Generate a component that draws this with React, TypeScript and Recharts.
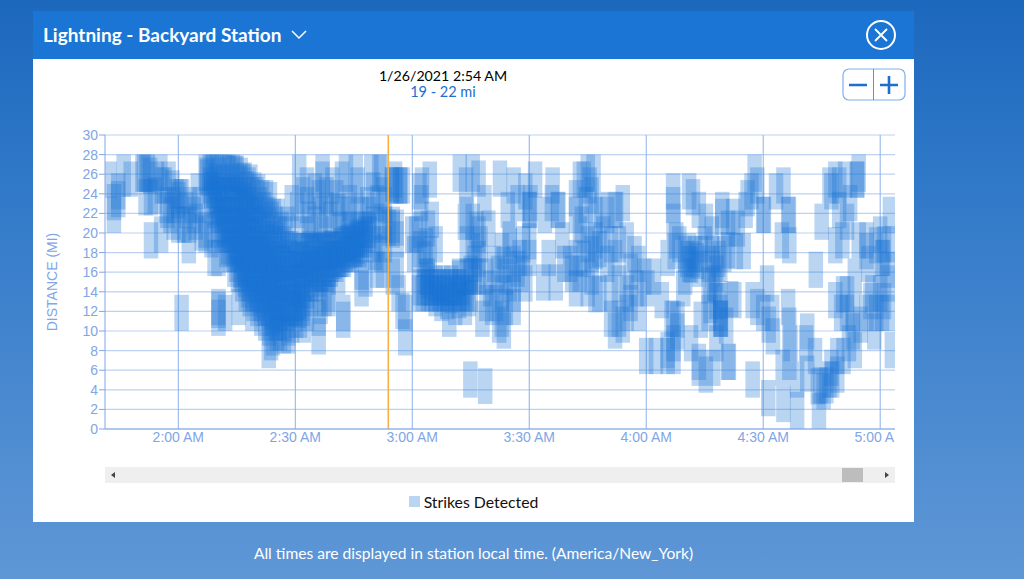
import { ComposedChart, Bar, XAxis, YAxis, CartesianGrid, ReferenceLine, Legend } from 'recharts'

// minutes after 2:00 AM, low mile, high mile
type Strike = [number, number, number]

const xTicks = [0, 30, 60, 90, 120, 150, 180]
const xTickLabels = ['2:00 AM', '2:30 AM', '3:00 AM', '3:30 AM', '4:00 AM', '4:30 AM', '5:00 AM']
const yTicks = [0, 2, 4, 6, 8, 10, 12, 14, 16, 18, 20, 22, 24, 26, 28, 30]
const selectedMinute = 53.85

const earlyStrikes: Strike[] = [
  [-17.6, 23.6, 27.3], [-16.5, 21.3, 25], [-16.5, 20, 23.7], [-15.4, 22.4, 26.1], [-15.4, 21.6, 25.3], [-14, 23.7, 28], [-12.2, 23.7, 27.3],
  [-9.2, 24.2, 28], [-8.8, 24.2, 28], [-8.2, 24.2, 28], [-7.8, 24.2, 28], [-7.2, 24, 27.7], [-7, 17.4, 21.1], [-8.4, 21.8, 25.5], [-7, 21.8, 25.5],
  [-6, 22, 25.7], [-5.5, 24.3, 27.3], [-4.6, 24.3, 28], [-4.4, 18, 21.7], [-4.2, 23, 26.7], [-3.5, 23, 26.7], [-3, 21, 24.7], [-2.8, 20.5, 24.2],
  [-2.5, 24.3, 27.3], [-2, 20, 23.7], [-1.5, 23, 26.4], [-1.2, 19.3, 23], [-1, 21, 24.7], [-0.5, 22.5, 25.5], [0, 19, 22.7], [0, 21.5, 25.2],
  [0.5, 22.5, 25.5], [0.85, 10, 13.7], [1, 22, 25.5], [1.5, 19, 22.7], [2, 20.5, 24.2], [2.7, 16.9, 20.6], [2.8, 19, 22.7], [3, 21, 24.7],
  [4, 20, 23.7], [4.5, 19.3, 23], [5, 22.4, 26.1], [5.5, 21, 24.7], [6, 18.2, 21.9], [7, 18, 21.7], [7, 18.5, 22.2], [8.5, 17.5, 21.2],
  [9.3, 15.6, 19.3], [10.3, 15.6, 19.3], [10.3, 10.3, 14], [10.3, 9.5, 13.2], [10.3, 10.6, 14.3], [12, 10, 13.7], [15.5, 10.6, 14.3], [19, 10, 13.7],
]

const coreStrikes: Strike[] = [
  [7, 24.3, 28], [7.2, 24, 27.7], [7.4, 23.8, 27.5], [8, 24.3, 28], [8.1, 23, 26.7], [8.5, 22.5, 26.2], [8.5, 21.7, 25.4],
  [9, 24.3, 28], [9, 22.5, 26.2], [9.2, 21.5, 25.2], [9.3, 20.5, 24.2], [10, 24.3, 28], [10, 22, 25.7], [10.1, 20, 23.7], [10.2, 18.5, 22.2],
  [11, 24.3, 28], [11, 22, 25.7], [11.2, 20, 23.7], [11.1, 18, 21.7], [12, 24.3, 28], [12, 22, 25.7], [12.1, 20, 23.7], [12, 18, 21.7], [12.3, 16.5, 20.2],
  [13, 24.3, 28], [13, 22, 25.7], [13.2, 20, 23.7], [13, 18, 21.7], [13.1, 16, 19.7], [14, 24.3, 28], [14, 22.3, 26], [14.2, 20, 23.7], [14, 18, 21.7], [14.1, 16, 19.7], [14.4, 14.5, 18.2],
  [15, 24.2, 27.9], [15, 22, 25.7], [15.1, 20, 23.7], [15, 18, 21.7], [15.2, 16, 19.7], [15.3, 14, 17.7], [16, 24, 27.7], [16, 22, 25.7], [16.1, 20, 23.7], [16, 18, 21.7], [16.2, 16, 19.7], [16.1, 14, 17.7], [16.4, 13, 16.7],
  [17, 23.5, 27.2], [17, 21.5, 25.2], [17.1, 19.5, 23.2], [17, 17.5, 21.2], [17.2, 15.5, 19.2], [17.1, 13.5, 17.2], [17.3, 12, 15.7],
  [18, 23, 26.7], [18, 21, 24.7], [18.1, 19, 22.7], [18, 17, 20.7], [18.2, 15, 18.7], [18.1, 13, 16.7], [18.3, 11.5, 15.2],
  [19, 22, 25.7], [19, 20, 23.7], [19.1, 18, 21.7], [19, 16, 19.7], [19.2, 14, 17.7], [19.1, 12, 15.7], [19.3, 11, 14.7],
  [20, 22, 25.7], [20, 20, 23.7], [20.1, 18, 21.7], [20, 16, 19.7], [20.2, 14, 17.7], [20.1, 12, 15.7], [20.3, 10.5, 14.2],
  [21, 21, 24.7], [21, 19, 22.7], [21.1, 17, 20.7], [21, 15, 18.7], [21.2, 13, 16.7], [21.1, 11, 14.7], [21.3, 9.5, 13.2],
  [22, 20.5, 24.2], [22, 18.5, 22.2], [22.1, 16.5, 20.2], [22, 14.5, 18.2], [22.2, 12.5, 16.2], [22.1, 10.5, 14.2], [22.3, 9, 12.7],
  [23, 20, 23.7], [23, 18, 21.7], [23.1, 16, 19.7], [23, 14, 17.7], [23.2, 12, 15.7], [23.1, 10, 13.7], [23.3, 8.5, 12.2], [23.2, 6.2, 9.9], [23.8, 7, 10.7],
  [24, 19.5, 23.2], [24, 17.5, 21.2], [24.1, 15.5, 19.2], [24, 13.5, 17.2], [24.2, 11.5, 15.2], [24.1, 9.5, 13.2], [24.3, 7.5, 11.2],
  [25, 19, 22.7], [25, 17, 20.7], [25.1, 15, 18.7], [25, 13, 16.7], [25.2, 11, 14.7], [25.1, 9, 12.7], [25.3, 8, 11.7], [26, 18, 21.7], [26, 16, 19.7], [26.1, 14, 17.7], [26, 12, 15.7], [26.2, 10, 13.7], [26.1, 8, 11.7],
  [27, 17, 20.7], [27, 15, 18.7], [27.1, 13, 16.7], [27, 11, 14.7], [27.2, 9, 12.7], [27.1, 7.7, 11.4], [28, 16.5, 20.2], [28, 14.5, 18.2], [28.1, 12.5, 16.2], [28, 10.5, 14.2], [28.2, 8.5, 12.2], [28.1, 7.7, 11.4],
  [29, 16.5, 20.2], [29, 14.5, 18.2], [29.1, 12.5, 16.2], [29, 10.5, 14.2], [29.2, 8.8, 12.5], [30, 16.3, 20], [30, 14.5, 18.2], [30.1, 12.5, 16.2], [30, 10.5, 14.2], [30.2, 9.3, 13],
  [31, 16.3, 20], [31, 14.3, 18], [31.1, 12.3, 16], [31, 10.3, 14], [31.2, 9.3, 13], [32, 16.3, 20], [32, 14.3, 18], [32.1, 12.5, 16.2], [32, 10.5, 14.2], [32.2, 8.8, 12.5],
  [33, 16.3, 20], [33, 14.3, 18], [33.1, 12.3, 16], [33, 10, 13.7], [34, 16.3, 20], [34, 14.5, 18.2], [34.1, 13, 16.7], [34, 11.5, 15.2], [35, 16.3, 20], [35, 14.5, 18.2], [35.1, 13, 16.7],
  [36, 16.3, 20], [36, 15, 18.7], [36.1, 13.5, 17.2], [37, 16.3, 20], [37, 15, 18.7], [37.1, 14, 17.7], [38, 16.3, 20], [38, 15.5, 19.2], [38.1, 14, 17.7], [39, 16.5, 20.2], [39, 15.5, 19.2], [39.1, 14.5, 18.2],
  [40, 16.4, 20.1], [40, 15.3, 19], [41, 16.5, 20.2], [41, 15.5, 19.2], [42, 16.5, 20.2], [42, 15.5, 19.2], [43, 17, 20.7], [43, 16, 19.7], [44, 17, 20.7], [44, 16.3, 20],
  [45, 17, 20.7], [45, 16.5, 20.2], [46, 17.5, 21.2], [46, 16.8, 20.5], [47, 17.5, 21.2], [47, 17, 20.7], [48, 18, 21.7], [48, 17.5, 21.2], [49, 18.5, 22.2], [49, 18, 21.7], [50, 19, 22.7],
]

const coreFillStrikes: Strike[] = [
  [8.6, 24.3, 28], [9.6, 23.4, 27.1], [9.7, 20.8, 24.5], [10.6, 24, 27.7], [10.6, 21, 24.7], [10.7, 19, 22.7], [11.6, 23.2, 26.9], [11.6, 20.9, 24.6], [11.7, 18.6, 22.3],
  [12.6, 24.2, 27.9], [12.6, 21.2, 24.9], [12.7, 18.8, 22.5], [12.8, 16.8, 20.5], [13.6, 23.4, 27.1], [13.6, 21, 24.7], [13.7, 18.9, 22.6], [13.8, 16.6, 20.3], [14.6, 24.2, 27.9], [14.6, 21.2, 24.9], [14.7, 19, 22.7], [14.8, 17, 20.7], [14.9, 15, 18.7],
  [15.6, 23.2, 26.9], [15.6, 20.8, 24.5], [15.7, 18.8, 22.5], [15.8, 16.8, 20.5], [15.9, 14.4, 18.1], [16.6, 23.4, 27.1], [16.6, 21, 24.7], [16.7, 18.7, 22.4], [16.8, 16.5, 20.2], [16.9, 14.6, 18.3], [17.6, 22.6, 26.3], [17.6, 20.5, 24.2], [17.7, 18.4, 22.1], [17.8, 16.2, 19.9], [17.9, 14.2, 17.9], [17.9, 12.4, 16.1],
  [18.5, 23.3, 27], [18.6, 20, 23.7], [18.7, 17.8, 21.5], [18.8, 15.8, 19.5], [18.9, 13.6, 17.3], [19.5, 22.5, 26.2], [19.6, 19.2, 22.9], [19.7, 17, 20.7], [19.8, 14.8, 18.5], [19.9, 12.8, 16.5], [20.5, 22.3, 26], [20.6, 18.8, 22.5], [20.7, 16.4, 20.1], [20.8, 14.2, 17.9], [20.9, 11.8, 15.5],
  [21.5, 21.7, 25.4], [21.6, 18, 21.7], [21.7, 15.8, 19.5], [21.8, 13.6, 17.3], [21.9, 11.4, 15.1], [22.5, 21.7, 25.4], [22.6, 17.2, 20.9], [22.7, 15.2, 18.9], [22.8, 13, 16.7], [22.9, 10.6, 14.3], [23.5, 21.5, 25.2], [23.6, 16.6, 20.3], [23.7, 14.6, 18.3], [23.8, 12.4, 16.1], [23.9, 10.2, 13.9],
  [24.5, 19.8, 23.5], [24.6, 16, 19.7], [24.7, 14, 17.7], [24.8, 12, 15.7], [24.9, 9.8, 13.5], [25.5, 19.8, 23.5], [25.6, 15.4, 19.1], [25.7, 13.4, 17.1], [25.8, 11.2, 14.9], [25.9, 9, 12.7], [26.5, 18.5, 22.2], [26.6, 15, 18.7], [26.7, 13, 16.7], [26.8, 10.8, 14.5], [27.5, 18, 21.7], [27.6, 15.2, 18.9], [27.7, 12.4, 16.1], [27.8, 10, 13.7],
  [28.6, 15.6, 19.3], [28.7, 13.2, 16.9], [28.8, 11, 14.7], [29.6, 15.4, 19.1], [29.7, 13, 16.7], [29.8, 11, 14.7], [30.6, 15.4, 19.1], [30.7, 13, 16.7], [30.8, 11.2, 14.9], [31.6, 15.5, 19.2], [31.7, 13.4, 17.1], [31.8, 11, 14.7], [32.6, 15.4, 19.1], [32.7, 13, 16.7],
  [33.5, 15, 18.7], [33.5, 16.5, 20.2], [34.5, 14, 17.7], [34.5, 16, 19.7], [35.5, 14, 17.7], [35.5, 16.2, 19.9], [36.5, 14, 17.7], [36.5, 16.4, 20.1], [37.5, 14.5, 18.2], [37.5, 16.5, 20.2], [38.5, 14.5, 18.2], [38.5, 16.2, 19.9], [39.5, 15, 18.7], [39.5, 16.6, 20.3],
  [40.5, 15, 18.7], [40.5, 16.4, 20.1], [41.5, 15.5, 19.2], [41.5, 16.8, 20.5], [42.5, 15.5, 19.2], [42.5, 17, 20.7], [43.5, 16, 19.7], [43.5, 17.2, 20.9], [44.5, 16, 19.7], [44.5, 17.4, 21.1], [45.5, 16.5, 20.2], [45.5, 17.6, 21.3], [46.5, 16.5, 20.2], [46.5, 17.8, 21.5],
]

const ridgeStrikes: Strike[] = [
  [31, 24.2, 28], [29.1, 21.2, 24.9], [33, 23, 26.7], [35, 22.4, 26.1], [36, 21.7, 25.4], [37, 24.2, 28], [37, 23.6, 27.3], [40.5, 21.7, 25.4], [42, 23.6, 27.3],
  [43, 24.2, 28], [45.5, 24.2, 28], [46, 23, 26.7], [41, 20.3, 24], [44, 21.2, 24.9], [45.5, 20.5, 24.2], [51.5, 24.2, 28], [51, 21.2, 24.9], [49, 20, 23.7], [52, 19.3, 23],
  [31.5, 18, 21.7], [34, 18, 21.7], [37.5, 18, 21.7], [33, 21, 24.7], [36.5, 20, 23.7], [39, 19.5, 23.2], [42, 20, 23.7], [47, 20, 23.7], [48, 18.5, 22.2], [44, 18.5, 22.2],
  [36, 7.6, 11.3], [36, 9.5, 13.2], [36.5, 10.7, 14.4], [42.3, 9.3, 13], [42.3, 10, 13.7], [37.5, 11.5, 15.2], [38.5, 11.5, 15.2], [38.5, 12, 15.7], [41, 13.7, 17.4],
  [47, 12.5, 16.2], [47, 14.2, 17.9], [48, 13.5, 17.2], [51, 14.4, 18.1], [50.5, 16.2, 19.9],
  [28, 19, 22.7], [30.5, 20.5, 24.2], [32, 22, 25.7], [33.5, 19.5, 23.2], [35, 19, 22.7], [38, 20.5, 24.2], [38, 22, 25.7], [39.5, 23, 26.7], [41.5, 18.5, 22.2], [43.5, 20, 23.7],
  [46, 18.5, 22.2], [48.5, 21, 24.7], [49.5, 24.3, 28], [50, 22.5, 26.2], [52.5, 22, 25.7], [53, 17, 20.7], [52, 16, 19.7], [50, 17, 20.7],
]

const basinStrikes: Strike[] = [
  [54.8, 23, 26.7], [55.9, 23, 26.7], [56.8, 23, 26.7], [57.6, 23, 26.7], [54.8, 23.2, 26.7], [57, 23, 26.7], [55.6, 23.6, 27.3], [52, 24.2, 28],
  [53, 19, 22.7], [54, 18.7, 22.4], [55, 19, 22.7], [56, 18.7, 22.4], [53, 21, 24.7], [55, 18.5, 22.2], [56, 17.5, 21.2], [56, 14.4, 18.1], [52.5, 14.4, 18.1],
  [56.5, 12, 15.7], [55, 13.7, 17.4], [57.5, 10.2, 13.9], [58.2, 7.5, 11.2], [58.2, 10, 13.7], [60, 18, 21.7], [61, 18, 21.7], [62.5, 23, 26.7], [62.3, 21.2, 24.9],
  [64.5, 23.6, 27.3], [61.8, 22.4, 26.1], [64, 18.6, 22.3], [63.5, 16.8, 20.5], [64.5, 16, 19.7], [63, 15.5, 19.2], [63.5, 13.7, 17.4], [64, 13.7, 17.4],
  [61.7, 12, 15.7], [62, 12.6, 16.3], [62.7, 12, 15.7], [63, 12.6, 16.3], [64, 12, 15.7], [64.1, 12.6, 16.3], [65, 12, 15.7], [65, 12.6, 16.3], [66, 12, 15.7], [66.2, 12.6, 16.3],
  [67, 12, 15.7], [67, 12.6, 16.3], [68, 12, 15.7], [68, 12.6, 16.3], [69, 12, 15.7], [69.1, 12.6, 16.3], [70, 11.8, 15.5], [70, 12.6, 16.3], [71, 12, 15.7], [71, 12.6, 16.3],
  [72, 12, 15.7], [72.1, 12.6, 16.3], [73, 12, 15.7], [73, 12.6, 16.3], [74, 12, 15.7], [74, 13.7, 17.4], [75, 12, 15.7], [75, 13.7, 17.4], [76, 13.7, 17.4], [77, 13.7, 17.4],
  [69.5, 9.4, 13.1], [71, 10.6, 14.3], [73.5, 10.6, 14.3], [72, 13.7, 17.4], [75.5, 19.3, 23], [77, 18, 21.7], [74, 17, 20.7], [79.5, 18.6, 22.3], [75.5, 16.3, 20], [76, 15, 18.7], [77, 15.5, 19.2], [75, 14, 17.7],
  [72.2, 24.2, 28], [73.8, 23, 26.7], [75.5, 24.2, 28], [77, 23.7, 27.4], [78.5, 21.2, 24.9], [73.5, 19.3, 23], [74, 20, 23.7], [76.5, 18.5, 22.2], [77.5, 17, 20.7],
  [78, 9.4, 13.1], [80.5, 10.6, 14.3], [82.3, 8.8, 12.5], [83.5, 8.2, 11.9], [83, 9.4, 13.1], [84, 10.6, 14.3], [86, 10.6, 14.3], [79, 13.7, 17.4], [80, 12.5, 16.2],
  [83, 16.3, 20], [85, 16.8, 20.5], [83.5, 14.9, 18.6], [85, 13, 16.7], [86, 12, 15.7], [84, 13.7, 17.4], [87.5, 15.6, 19.3], [90, 15.6, 19.3], [88.5, 17, 20.7],
  [82.5, 23.7, 27.4], [86, 23, 26.7], [84.5, 20.5, 24.2], [87, 21.2, 24.9], [89, 22.4, 26.1], [90, 20.5, 24.2], [90.2, 20.5, 24.2], [91.5, 23.6, 27.3], [90.3, 21.2, 24.9], [90, 17.3, 21],
  [74.9, 3.2, 6.9], [78.7, 2.55, 6.2],
  [60.5, 16, 19.7], [62, 16.5, 20.2], [62, 18.5, 22.2], [65, 19.5, 23.2], [66, 17, 20.7], [66, 11.5, 15.2], [67.5, 11, 14.7], [69, 11.2, 14.9], [72, 11.3, 15], [74.5, 11.5, 15.2],
  [64, 13.3, 17], [66, 13, 16.7], [68, 13, 16.7], [70, 13, 16.7], [72, 13.5, 17.2], [81, 15, 18.7], [82, 14, 17.7], [86, 15, 18.7], [87, 14.5, 18.2], [88, 14, 17.7], [89, 13, 16.7], [85, 17.5, 21.2], [83, 12, 15.7], [81.5, 11, 14.7], [79, 11, 14.7],
]

const midStrikes: Strike[] = [
  [96, 23, 26.7], [97.3, 20.5, 24.2], [97.5, 20.5, 24.2], [95.8, 21.2, 24.9], [94, 20, 23.7], [95, 15.6, 19.3], [93.6, 13.1, 16.8], [96.8, 13.1, 16.8], [98.5, 17.4, 21.1], [100.5, 15, 18.7],
  [103, 23.6, 27.3], [105, 24.2, 28], [106.5, 24.2, 28], [104, 23.6, 27.3], [105.5, 23, 26.7], [102, 21.7, 25.4], [102, 20, 23.7], [103, 18, 21.7], [102, 15.6, 19.3],
  [107, 17.4, 21.1], [108, 16.5, 20.2], [106, 16, 19.7], [107, 16.3, 20], [108.5, 20.5, 24.2], [110, 20, 23.7], [112, 20.5, 24.2], [112.3, 20.5, 24.2], [114, 21.2, 24.9], [115, 17.4, 21.1], [112, 15.6, 19.3], [116, 14.2, 17.9],
  [102, 12.5, 16.2], [105, 12.5, 16.2], [107, 11.9, 15.6], [108, 12, 15.7], [106, 13.7, 17.4], [111, 9.4, 13.1], [112, 8.2, 11.9], [113, 9.4, 13.1], [114, 8.8, 12.5], [115, 12, 15.7], [115, 10, 13.7], [111, 12, 15.7],
  [117.5, 12.5, 16.2], [119.5, 13.7, 17.4], [120, 5.6, 9.3], [122.5, 5.6, 9.3], [125.5, 5.6, 9.3], [125.5, 6.2, 9.9], [127, 5.6, 9.3], [127, 6.9, 10.6], [128, 8.1, 11.8], [128, 9.3, 13],
  [131.5, 6.9, 10.6], [133.5, 5, 8.7], [133.5, 4.4, 8.1], [135.3, 3.7, 7.4], [137.2, 4.4, 8.1], [138, 6.9, 10.6], [141, 5, 8.7], [141.2, 5, 8.7],
  [134, 9.3, 13], [136, 10, 13.7], [138, 11.2, 14.9], [139, 9.4, 13.1], [139.1, 9.4, 13.1], [139.2, 9.4, 13.1], [139, 10, 13.7], [140.5, 8.7, 12.4], [139, 11.2, 14.9], [141.8, 11.4, 15.1], [142.6, 11.3, 15], [136.5, 10.8, 14.5],
  [126.9, 22.4, 26.1], [126.9, 21, 24.7], [127, 19.3, 23], [131, 22.4, 26.1], [132, 21.8, 25.5], [133.5, 20.5, 24.2], [135.3, 19.3, 23], [136.8, 18, 21.7], [139.5, 20.5, 24.2], [139.5, 19.8, 23.5],
  [141, 18.6, 22.3], [142.3, 19.8, 23.5], [143.5, 18.6, 22.3], [145, 16.3, 20], [145.5, 20.5, 24.2], [146, 21.7, 25.4], [147.8, 24.2, 28], [148.5, 23, 26.7], [147, 22.4, 26.1], [150, 20, 23.7], [150.2, 20, 23.7],
  [130, 13.7, 17.4], [131.5, 14.9, 18.6], [131, 16.3, 20], [128.5, 17, 20.7], [127.7, 17.4, 21.1], [125.5, 15.6, 19.3], [127.3, 16.3, 20], [122, 13.7, 17.4], [120.3, 12.5, 16.2], [124, 11.3, 15], [126.5, 9.4, 13.1], [129.5, 12.5, 16.2], [127, 9.4, 13.1],
  [130, 16, 19.7], [130.5, 15.5, 19.2], [131, 15, 18.7], [132, 15.5, 19.2], [132.5, 16, 19.7], [133, 15.3, 19], [133.5, 14.5, 18.2], [134, 16, 19.7], [135, 17, 20.7],
  [136, 15, 18.7], [137, 14.5, 18.2], [138, 14, 17.7], [138.5, 15.5, 19.2], [139, 15, 18.7], [140, 16, 19.7], [137, 16, 19.7], [136, 12.8, 16.5], [137.5, 13, 16.7], [141, 16.4, 20.1], [143, 16.3, 20],
  [99, 15, 18.7], [101, 14, 17.7], [103, 14, 17.7], [104, 15.5, 19.2], [105, 17, 20.7], [103.5, 19, 22.7], [104.5, 21, 24.7], [106, 22, 25.7], [107, 20, 23.7], [109, 18, 21.7], [110, 15, 18.7], [111, 17, 20.7], [113, 17, 20.7], [113, 13, 16.7], [117, 16, 19.7], [118, 15, 18.7], [116, 11, 14.7], [118, 10, 13.7],
]

const lateStrikes: Strike[] = [
  [153.3, 22.4, 26.1], [155.2, 23, 26.7], [156.4, 20, 23.7], [156.6, 20, 23.7], [156.7, 16.9, 20.6], [154.8, 17.4, 21.1], [163.5, 14.4, 18.1],
  [151, 13, 16.7], [147.3, 11.3, 15], [148.5, 10.6, 14.3], [150, 10, 13.7], [151.4, 8.8, 12.5], [152.3, 10, 13.7], [152.5, 7.6, 11.3], [156.4, 10.6, 14.3], [156.7, 8.7, 12.4], [157, 6.9, 10.6],
  [155, 4.4, 8.1], [156.7, 5, 8.7], [158.7, 3.2, 6.9], [158.7, 0, 3.8], [155.2, 0.7, 4.4], [151.3, 1.3, 5], [147.3, 3.2, 6.9], [161.3, 8.1, 11.8], [161, 6.9, 10.6], [163.3, 5.6, 9.3], [161.3, 3.8, 7.5],
  [164, 2.5, 6.2], [164.3, 0, 3.7], [164.7, 2.6, 6.3], [165.5, 2, 5.7], [166.2, 2.6, 6.3], [167, 3.2, 6.9], [167.7, 3.2, 6.9], [169, 3.7, 7.4], [167.5, 4.4, 8.1], [169, 5.6, 9.3], [170.6, 5.6, 9.3], [172, 6.9, 10.6], [173.5, 6.2, 9.9],
  [167, 23, 26.7], [168.5, 23.6, 27.3], [169.5, 23, 26.7], [167.5, 22.4, 26.1], [171, 23.6, 27.3], [174, 23.6, 27.3], [174.2, 23.6, 27.3], [174.5, 24.2, 28], [165, 19.3, 23], [169.5, 20.5, 24.2], [171.5, 19.3, 23], [172.3, 21.2, 24.9],
  [168.5, 16.9, 20.6], [170.3, 17.4, 21.1], [174.5, 17.4, 21.1], [176.5, 16.3, 20], [176.5, 17.4, 21.1], [179, 16.9, 20.6], [180.5, 15.6, 19.3], [180.8, 15.6, 19.3], [181, 17, 20.7], [182.5, 20, 23.7], [182, 14.4, 18.1],
  [173.5, 13.7, 17.4], [170.5, 11.9, 15.6], [168.5, 11.3, 15], [170, 10, 13.7], [171.5, 11.9, 15.6], [171.5, 10, 13.7], [173, 10, 13.7], [175, 8.8, 12.5], [178.5, 8.1, 11.8], [176.5, 10, 13.7], [177.5, 11.2, 14.9], [180.5, 10, 13.7], [182, 10, 13.7], [181, 11.2, 14.9], [183, 6.2, 9.9], [173, 8.1, 11.8],
  [178, 12, 15.7], [179, 10, 13.7], [180, 12, 15.7], [182, 13, 16.7], [180, 18, 21.7], [183, 17, 20.7], [177, 15, 18.7],
]

const strikeRows = [...earlyStrikes, ...coreStrikes, ...coreFillStrikes, ...ridgeStrikes, ...basinStrikes, ...midStrikes, ...lateStrikes].map(
  ([minute, low, high]) => ({ minute, range: [low, high] }),
)

const FONT = '"Liberation Sans", Arial, sans-serif'
const HEAD_FONT = 'Lato, "Open Sans", sans-serif'
const AXIS_BLUE = '#80a6e6'
const STRIKE_FILL = 'rgba(27,117,212,0.3)'
const STRIKE_WIDTH = 14.5

// the band size on a time axis collapses to the closest pair of strikes, so keep the width here
function StrikeBox({ x, y, width, height }: any) {
  return <rect x={x + width / 2 - STRIKE_WIDTH / 2} y={y} width={STRIKE_WIDTH} height={height} fill={STRIKE_FILL} />
}

function StrikeLegend() {
  return (
    <div style={{ height: 20, display: 'flex', alignItems: 'center', justifyContent: 'center', fontFamily: HEAD_FONT, fontSize: 15.8, color: '#111' }}>
      <span style={{ width: 11, height: 11, background: STRIKE_FILL, marginRight: 4 }} />
      Strikes Detected
    </div>
  )
}

export default function App() {
  return (
    <div style={{ position: 'absolute', left: 0, top: 0, width: 1024, height: 579, overflow: 'hidden', background: 'linear-gradient(180deg, #1c68bd 0%, #2f78c8 30%, #5f97d6 100%)' }}>
      <div style={{ position: 'absolute', left: 33, top: 11, width: 881, height: 511, background: '#fff' }} />
      <div style={{ position: 'absolute', left: 33, top: 11, width: 881, height: 48, background: '#1b75d4' }} />
      <div style={{ position: 'absolute', left: 43, top: 23, fontFamily: HEAD_FONT, fontWeight: 700, fontSize: 19, color: '#fff', whiteSpace: 'nowrap' }}>
        Lightning - Backyard Station
      </div>
      <svg style={{ position: 'absolute', left: 290, top: 28 }} width="18" height="14">
        <path d="M2 3 L9 10 L16 3" fill="none" stroke="#fff" strokeWidth="1.5" />
      </svg>
      <svg style={{ position: 'absolute', left: 865, top: 19 }} width="32" height="32">
        <circle cx="16" cy="16" r="14" fill="none" stroke="#fff" strokeWidth="2" />
        <path d="M10 10 L22 22 M22 10 L10 22" stroke="#fff" strokeWidth="1.8" />
      </svg>
      <div style={{ position: 'absolute', left: 33, width: 820, top: 68, textAlign: 'center', fontFamily: HEAD_FONT, fontSize: 14.2, lineHeight: '16px', color: '#000' }}>
        1/26/2021 2:54 AM
        <div style={{ color: '#1b6fd0', fontSize: 14.5 }}>19 - 22 mi</div>
      </div>
      <svg style={{ position: 'absolute', left: 842, top: 68 }} width="64" height="33">
        <rect x="1" y="1" width="62" height="31" rx="6" fill="#fff" stroke="#7fb0ea" strokeWidth="1.2" />
        <path d="M31.5 1 V32" stroke="#5c93d8" strokeWidth="1" />
        <path d="M7 17 H25 M38 17 H56 M47 8 V26" stroke="#1b6fd0" strokeWidth="2.6" />
      </svg>

      <div style={{ position: 'absolute', left: 33, top: 120 }}>
        <ComposedChart
          width={862}
          height={395}
          data={strikeRows}
          margin={{ top: 15, right: 0, left: 0, bottom: 4 }}
        >
          <CartesianGrid vertical={false} stroke="#bdd2f1" strokeWidth={1.2} />
          <CartesianGrid horizontal={false} stroke="#8bb0ea" verticalValues={xTicks} />
          <XAxis
            dataKey="minute"
            type="number"
            domain={[-18.8, 183.8]}
            allowDataOverflow
            ticks={xTicks}
            interval={0}
            height={62}
            tickLine={false}
            tickMargin={0}
            axisLine={{ stroke: AXIS_BLUE }}
            tick={{ fontSize: 14, fill: AXIS_BLUE, fontFamily: FONT, dy: -3 }}
            tickFormatter={(v: number) => xTickLabels[xTicks.indexOf(v)]}
          />
          <YAxis
            type="number"
            domain={[0, 30]}
            ticks={yTicks}
            interval={0}
            width={72}
            tickSize={6}
            tickMargin={1}
            stroke={AXIS_BLUE}
            tick={{ fontSize: 14, fill: AXIS_BLUE, fontFamily: FONT }}
            label={{ value: 'DISTANCE (MI)', angle: -90, position: 'insideLeft', offset: 19, style: { textAnchor: 'middle', fontSize: 14, fill: AXIS_BLUE, fontFamily: FONT } }}
          />
          <Bar
            dataKey="range"
            name="Strikes Detected"
            fill={STRIKE_FILL}
            barSize={STRIKE_WIDTH}
            shape={<StrikeBox />}
            isAnimationActive={false}
          />
          <ReferenceLine x={selectedMinute} stroke="#f8b040" strokeWidth={1.6} />
          <Legend content={<StrikeLegend />} verticalAlign="bottom" height={20} wrapperStyle={{ left: 19, width: 843 }} />
        </ComposedChart>
      </div>

      <div style={{ position: 'absolute', left: 105, top: 467, width: 790, height: 16, background: '#efefef' }}>
        <div style={{ position: 'absolute', left: 737, top: 1, width: 21, height: 14, background: '#bdbdbd' }} />
        <svg style={{ position: 'absolute', left: 0, top: 0 }} width="790" height="16">
          <path d="M10 5 L6 8 L10 11 Z M780 5 L784 8 L780 11 Z" fill="#444" />
        </svg>
      </div>

      <div style={{ position: 'absolute', left: 33, width: 881, top: 544, textAlign: 'center', fontFamily: HEAD_FONT, fontSize: 15.6, color: '#fff' }}>
        All times are displayed in station local time. (America/New_York)
      </div>
    </div>
  )
}
